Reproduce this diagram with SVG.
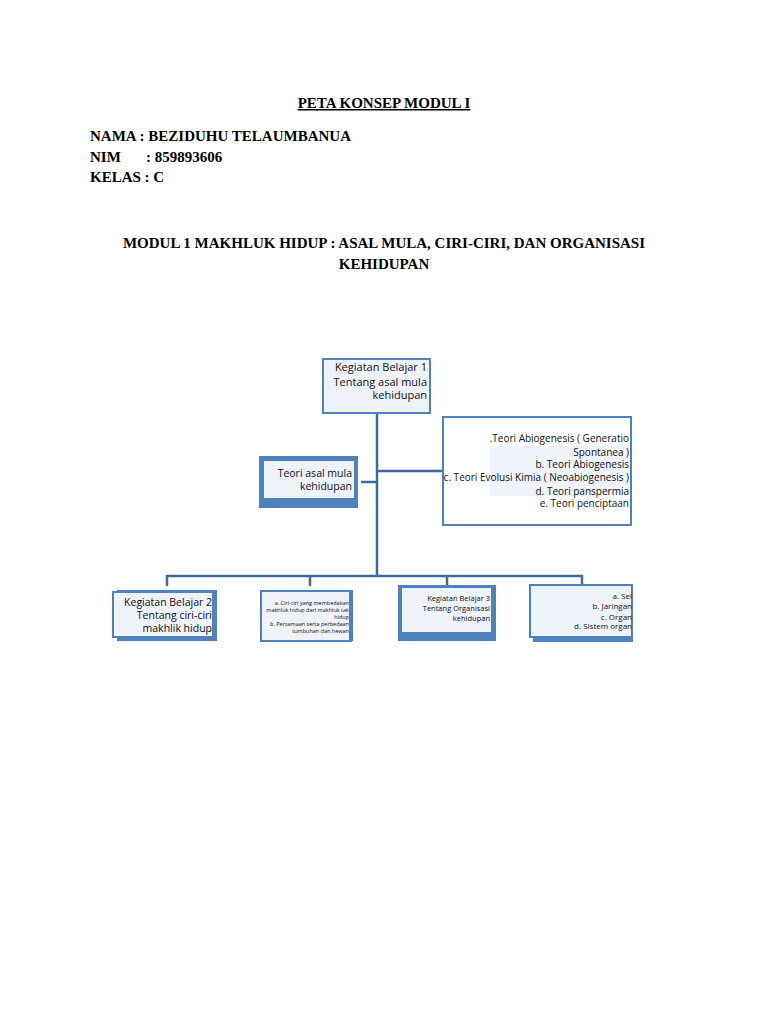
<svg xmlns="http://www.w3.org/2000/svg" width="768" height="1024" viewBox="0 0 768 1024">
<style>
.h{font-family:"Liberation Serif",serif;font-weight:bold;font-size:15px;fill:#000}
.t{font-family:"Open Sans","Liberation Sans",sans-serif;fill:#111;text-anchor:end}
.box{fill:#eef2f9;stroke:#4f81bd;stroke-width:2}
.sh{fill:#4f81bd}
.ln{stroke:#3d6aa0;stroke-width:2.5;fill:none}
</style>
<rect width="768" height="1024" fill="#fff"/>
<text class="h" x="384" y="108" text-anchor="middle" text-decoration="underline">PETA KONSEP MODUL I</text>
<text class="h" x="90" y="141">NAMA  : BEZIDUHU TELAUMBANUA</text>
<text class="h" x="90" y="162">NIM</text><text class="h" x="146" y="162">: 859893606</text>
<text class="h" x="90" y="182">KELAS : C</text>
<text class="h" x="384" y="248" text-anchor="middle">MODUL 1 MAKHLUK HIDUP : ASAL MULA, CIRI-CIRI, DAN ORGANISASI</text>
<text class="h" x="384" y="269" text-anchor="middle">KEHIDUPAN</text>
<g id="connectors">
<path class="ln" d="M377 413V577M377 471H443M361 482H377M167 586V576H582V586M310 576V586M447 576V586"/>
</g>
<g id="kb1"><rect class="box" x="323" y="359" width="107" height="54"/>
<text class="t" font-size="11"><tspan x="427" y="371">Kegiatan Belajar 1</tspan><tspan x="427" y="386">Tentang asal mula</tspan><tspan x="427" y="399">kehidupan</tspan></text></g>
<g id="teori-list"><rect x="443" y="417" width="188" height="108" fill="#fff" stroke="#4f81bd" stroke-width="2"/>
<rect x="490" y="446" width="139" height="50" fill="#eef2f9"/>
<text class="t" font-size="10"><tspan x="629" y="442">.Teori Abiogenesis ( Generatio</tspan><tspan x="629" y="456">Spontanea )</tspan><tspan x="629" y="468">b. Teori Abiogenesis</tspan><tspan x="629" y="481">c. Teori Evolusi Kimia ( Neoabiogenesis )</tspan><tspan x="629" y="495">d. Teori panspermia</tspan><tspan x="629" y="507">e. Teori penciptaan</tspan></text></g>
<g id="teori"><rect class="sh" x="259" y="456" width="99" height="52"/><rect x="264" y="461" width="90" height="37" fill="#eef2f9"/>
<text class="t" font-size="10.5"><tspan x="352" y="477">Teori asal mula</tspan><tspan x="352" y="490">kehidupan</tspan></text></g>
<g id="kb2"><rect class="sh" x="117" y="590" width="100" height="51"/><rect class="box" x="113" y="592" width="100" height="45" stroke-width="1.5"/>
<text class="t" font-size="10.5"><tspan x="212" y="606">Kegiatan Belajar 2</tspan><tspan x="212" y="619">Tentang ciri-ciri</tspan><tspan x="212" y="632">makhlik hidup</tspan></text></g>
<g id="ciri"><rect class="box" x="261" y="591" width="90" height="50"/><rect class="sh" x="349" y="590" width="4" height="51"/>
<text class="t" font-size="5.5"><tspan x="349" y="605">a. Ciri-ciri yang membedakan</tspan><tspan x="349" y="612">makhluk hidup dari makhluk tak</tspan><tspan x="349" y="619">hidup</tspan><tspan x="349" y="626">b. Persamaan serta perbedaan</tspan><tspan x="349" y="633">tumbuhan dan hewan</tspan></text></g>
<g id="kb3"><rect class="sh" x="398" y="585" width="98" height="56"/><rect x="402" y="588" width="89" height="44" fill="#eef2f9"/>
<text class="t" font-size="7.5"><tspan x="490" y="601">Kegiatan Belajar 3</tspan><tspan x="490" y="611">Tentang Organisasi</tspan><tspan x="490" y="621">kehidupan</tspan></text></g>
<g id="org"><rect class="sh" x="533" y="587" width="100" height="55"/><rect class="box" x="530" y="585" width="102" height="52" stroke-width="1.5"/>
<text class="t" font-size="8"><tspan x="632" y="599">a. Sel</tspan><tspan x="632" y="609">b. Jaringan</tspan><tspan x="632" y="620">c. Organ</tspan><tspan x="632" y="629">d. Sistem organ</tspan></text></g>
</svg>
